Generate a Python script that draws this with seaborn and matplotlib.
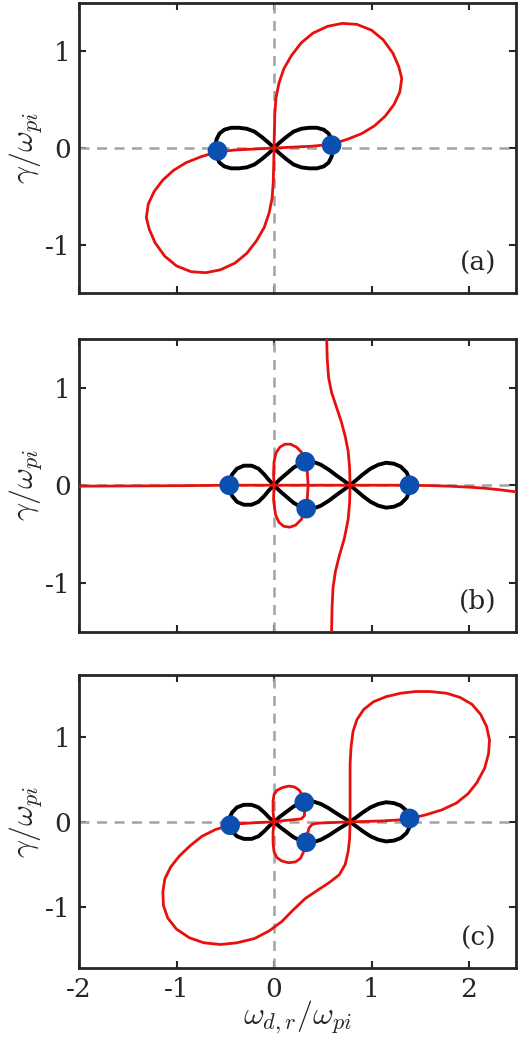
import numpy as np
import matplotlib
matplotlib.use("Agg")
import matplotlib.pyplot as plt
import seaborn as sns

sns.set_style("white")
plt.rcParams['font.family'] = ['DejaVu Serif']
plt.rcParams['mathtext.fontset'] = 'cm'

# ---- panel (a) ----
a_black_up_x = [0, 0.05, 0.12, 0.20, 0.28, 0.36, 0.44, 0.51, 0.56, 0.59, 0.60, 0.60]
a_black_up_y = [0, 0.05, 0.11, 0.17, 0.20, 0.21, 0.21, 0.19, 0.15, 0.09, 0.04, 0.0]
a_red_x = [0, 0.003, 0.008, 0.02, 0.05, 0.10, 0.18, 0.28, 0.40, 0.55, 0.70, 0.85, 1.00, 1.12, 1.22, 1.28,
           1.31, 1.29, 1.23, 1.14, 1.03, 0.90, 0.75, 0.59, 0.40, 0.20, 0]
a_red_y = [0, 0.15, 0.35, 0.52, 0.67, 0.82, 0.96, 1.09, 1.19, 1.26, 1.29, 1.28, 1.22, 1.12, 0.98, 0.84,
           0.72, 0.58, 0.45, 0.33, 0.23, 0.15, 0.09, 0.04, 0.02, 0.01, 0]
a_dots_x = [0.59, -0.58]
a_dots_y = [0.03, -0.03]

# ---- black lobes for (b) and (c) ----
bc_left_up_x = [-0.46, -0.455, -0.43, -0.38, -0.31, -0.23, -0.16, -0.10, -0.05, 0]
bc_left_up_y = [0.0, 0.05, 0.11, 0.17, 0.20, 0.20, 0.17, 0.11, 0.05, 0]
bc_mid_up_x = [0, 0.06, 0.13, 0.20, 0.27, 0.32, 0.40, 0.48, 0.56, 0.64, 0.71, 0.78]
bc_mid_up_y = [0, 0.06, 0.12, 0.18, 0.22, 0.24, 0.24, 0.21, 0.16, 0.10, 0.05, 0]
bc_right_up_x = [0.78, 0.84, 0.91, 0.99, 1.07, 1.15, 1.23, 1.30, 1.36, 1.39, 1.395]
bc_right_up_y = [0, 0.05, 0.11, 0.17, 0.21, 0.23, 0.22, 0.19, 0.13, 0.06, 0]

# ---- panel (b) ----
b_hline_x = [-2.0, -1.0, -0.46, 0, 0.78, 1.39, 1.6, 1.8, 2.0, 2.15, 2.3, 2.5]
b_hline_y = [-0.01, -0.005, 0, 0, 0, 0, -0.004, -0.01, -0.02, -0.03, -0.045, -0.07]
b_vline_x = [0.54, 0.545, 0.56, 0.59, 0.64, 0.69, 0.73, 0.76, 0.775, 0.78, 0.775, 0.76, 0.72, 0.67,
             0.63, 0.605, 0.595, 0.59]
b_vline_y = [1.5, 1.3, 1.1, 0.95, 0.8, 0.65, 0.5, 0.35, 0.18, 0, -0.18, -0.35, -0.55, -0.72,
             -0.88, -1.05, -1.25, -1.5]
b_loop_x = [0, -0.005, 0, 0.02, 0.06, 0.11, 0.17, 0.23, 0.28, 0.32, 0.34, 0.35, 0.34, 0.32, 0.28,
            0.22, 0.16, 0.10, 0.05, 0.015, -0.005, 0]
b_loop_y = [0, 0.12, 0.24, 0.33, 0.39, 0.42, 0.42, 0.39, 0.34, 0.26, 0.15, 0, -0.15, -0.26, -0.35,
            -0.41, -0.43, -0.42, -0.38, -0.30, -0.15, 0]
b_dots_x = [-0.46, 0.32, 0.33, 1.39]
b_dots_y = [0, 0.24, -0.24, 0]

# ---- panel (c) ----
c_big_x = [1.39, 1.55, 1.72, 1.87, 1.99, 2.08, 2.16, 2.20, 2.21, 2.18, 2.12, 2.03, 1.91, 1.77, 1.60,
           1.45, 1.30, 1.15, 1.02, 0.92, 0.85, 0.81, 0.79, 0.78, 0.78, 0.78, 0.78, 0.775, 0.76, 0.73,
           0.67, 0.57, 0.45, 0.32, 0.20, 0.08, -0.05, -0.20, -0.38, -0.55, -0.72, -0.87, -1.00, -1.09,
           -1.135, -1.14, -1.12, -1.06, -0.97, -0.86, -0.74, -0.60, -0.45]
c_big_y = [0.04, 0.08, 0.14, 0.22, 0.33, 0.46, 0.63, 0.80, 0.96, 1.12, 1.26, 1.38, 1.46, 1.51, 1.53,
           1.53, 1.51, 1.47, 1.41, 1.32, 1.20, 1.06, 0.88, 0.68, 0.45, 0.20, 0.0, -0.20, -0.35, -0.50,
           -0.62, -0.71, -0.80, -0.90, -1.03, -1.17, -1.28, -1.37, -1.42, -1.44, -1.42, -1.36, -1.26, -1.13,
           -0.98, -0.82, -0.67, -0.53, -0.40, -0.28, -0.17, -0.09, -0.04]
c_seg_left_x = [-0.45, -0.2, 0]
c_seg_left_y = [-0.03, -0.01, 0]
c_up_loop_x = [0, -0.01, -0.01, 0, 0.03, 0.08, 0.15, 0.21, 0.26, 0.29, 0.31, 0.315, 0.31, 0.28, 0.20, 0.10, 0]
c_up_loop_y = [0, 0.12, 0.24, 0.32, 0.37, 0.40, 0.42, 0.41, 0.37, 0.31, 0.22, 0.13, 0.07, 0.035, 0.025, 0.015, 0]
c_lo_loop_x = [0, -0.01, -0.01, 0, 0.03, 0.08, 0.15, 0.22, 0.27, 0.30, 0.32, 0.34, 0.36, 0.39, 0.45, 0.60, 0.78]
c_lo_loop_y = [0, -0.12, -0.25, -0.35, -0.42, -0.46, -0.48, -0.47, -0.43, -0.36, -0.26, -0.15, -0.07, -0.03, -0.015, -0.008, 0]
c_seg_right_x = [0.78, 1.1, 1.39]
c_seg_right_y = [0, 0.01, 0.03]
c_dots_x = [-0.45, 0.31, 0.33, 1.39]
c_dots_y = [-0.04, 0.23, -0.24, 0.04]

xticks = [-2, -1, 0, 1, 2]
yticks = [-1, 0, 1]
panel_labels = ['(a)', '(b)', '(c)']

RED = '#e8100c'
BLUE = '#0b4fb0'
GRAY = '#a3a3a3'


def line(ax, x, y, color, lw):
    sns.lineplot(x=x, y=y, sort=False, estimator=None, color=color, lw=lw, ax=ax, zorder=3,
                 solid_joinstyle='round', solid_capstyle='round')


def lobes(ax, x, y):
    xx = list(x) + list(x)[::-1]
    yy = list(y) + [-v for v in y][::-1]
    line(ax, xx, yy, 'black', 2.8)


def mirror_x(x):
    return [-v for v in x]


fig = plt.figure(figsize=(5.2, 10.39), dpi=100)
rects = [[0.152, 0.718, 0.840, 0.279],
         [0.152, 0.392, 0.840, 0.282],
         [0.152, 0.068, 0.840, 0.282]]
ylims = [(-1.5, 1.5), (-1.5, 1.5), (-1.72, 1.72)]
axes = [fig.add_axes(r) for r in rects]

for i, ax in enumerate(axes):
    ax.axhline(0, color=GRAY, ls=(0, (4, 3)), lw=1.8, zorder=1)
    ax.axvline(0, color=GRAY, ls=(0, (4, 3)), lw=1.8, zorder=1)

ax = axes[0]
lobes(ax, a_black_up_x, a_black_up_y)
lobes(ax, mirror_x(a_black_up_x), a_black_up_y)
line(ax, a_red_x, a_red_y, RED, 2.0)
line(ax, mirror_x(a_red_x), [-v for v in a_red_y], RED, 2.0)
sns.scatterplot(x=a_dots_x, y=a_dots_y, color=BLUE, s=200, edgecolor='none', ax=ax, zorder=5)

for ax in axes[1:]:
    lobes(ax, bc_left_up_x, bc_left_up_y)
    lobes(ax, bc_mid_up_x, bc_mid_up_y)
    lobes(ax, bc_right_up_x, bc_right_up_y)

ax = axes[1]
line(ax, b_hline_x, b_hline_y, RED, 2.0)
line(ax, b_vline_x, b_vline_y, RED, 2.0)
line(ax, b_loop_x, b_loop_y, RED, 2.0)
sns.scatterplot(x=b_dots_x, y=b_dots_y, color=BLUE, s=200, edgecolor='none', ax=ax, zorder=5)

ax = axes[2]
for xs, ys in [(c_big_x, c_big_y), (c_seg_left_x, c_seg_left_y), (c_up_loop_x, c_up_loop_y),
               (c_lo_loop_x, c_lo_loop_y), (c_seg_right_x, c_seg_right_y)]:
    line(ax, xs, ys, RED, 2.0)
sns.scatterplot(x=c_dots_x, y=c_dots_y, color=BLUE, s=200, edgecolor='none', ax=ax, zorder=5)

for i, ax in enumerate(axes):
    ax.set_xlim(-2.0, 2.48)
    ax.set_ylim(*ylims[i])
    ax.set_xticks(xticks)
    ax.set_yticks(yticks)
    ax.set_yticklabels([str(v) for v in yticks])
    ax.tick_params(direction='in', length=5, width=1.5, top=True, right=True,
                   bottom=True, left=True, labelsize=19, color='#262626', pad=6)
    if i < 2:
        ax.set_xticklabels([])
    else:
        ax.set_xticklabels([str(v) for v in xticks])
        ax.set_xlabel(r'$\omega_{d,r}/\omega_{pi}$', fontsize=23, labelpad=-2)
    ax.set_ylabel(r'$\gamma/\omega_{pi}$', fontsize=23, labelpad=0)
    for s in ax.spines.values():
        s.set_linewidth(2.0)
        s.set_color('#262626')
    ax.text(0.955, 0.06, panel_labels[i], transform=ax.transAxes, ha='right', va='bottom', fontsize=19)

fig.savefig('out.png', dpi=100)
